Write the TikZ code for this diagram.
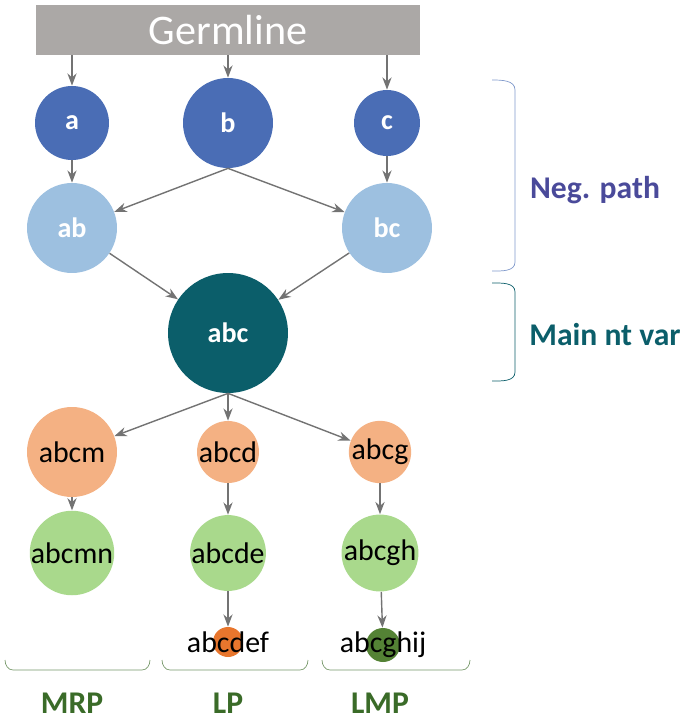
\documentclass[tikz,border=0pt]{standalone}
\usepackage{fontspec}
\setmainfont{Carlito}
\usetikzlibrary{arrows.meta}
\definecolor{GermGray}{HTML}{ABA8A6}
\definecolor{NegBlue}{HTML}{4A6DB5}
\definecolor{PairBlue}{HTML}{9DC0E0}
\definecolor{MainTeal}{HTML}{0B5E6A}
\definecolor{SubSalmon}{HTML}{F4B183}
\definecolor{SubGreen}{HTML}{A9D98C}
\definecolor{LeafOrange}{HTML}{E8762D}
\definecolor{LeafGreen}{HTML}{548235}
\definecolor{LabelBlue}{HTML}{4A4A9A}
\definecolor{LabelGreen}{HTML}{3A6B28}
\tikzset{
  var/.style={circle,inner sep=0pt,font=\fontsize{17}{17}\selectfont},
  top/.style={var,text=white,font=\fontsize{16}{16}\selectfont\bfseries},
  link/.style={draw=gray!90!black,thick,-{Stealth[length=7pt]}},
  group/.style={draw=#1,thin}
}
\begin{document}
\begin{tikzpicture}[x=0.02cm,y=-0.02cm]
  \useasboundingbox (0,0) rectangle (685,720);
  \node[fill=GermGray,text=white,minimum width=7.7cm,minimum height=1cm,font=\fontsize{24}{24}\selectfont] (germ) at (228,30) {Germline};
  % negative path
  \node[top,fill=NegBlue,minimum size=1.48cm] (a) at (72,123) {a};
  \node[top,fill=NegBlue,minimum size=1.8cm] (b) at (228,123) {b};
  \node[top,fill=NegBlue,minimum size=1.32cm] (c) at (387,123) {c};
  \node[top,fill=PairBlue,minimum size=1.8cm] (ab) at (72,228) {ab};
  \node[top,fill=PairBlue,minimum size=1.8cm] (bc) at (387,228) {bc};
  \node[top,fill=MainTeal,minimum size=2.4cm] (abc) at (228,333) {abc};
  % sub-clones
  \node[var,fill=SubSalmon,minimum size=1.8cm] (abcm) at (72,452) {abcm};
  \node[var,fill=SubSalmon,minimum size=1.12cm] (abcd) at (228,452) {abcd};
  \node[var,fill=SubSalmon,minimum size=1.12cm] (abcg) at (380,452) {abcg};
  \node[var,fill=SubGreen,minimum size=1.32cm] (abcmn) at (72,553) {abcmn};
  \node[var,fill=SubGreen,minimum size=1.08cm] (abcde) at (228,553) {abcde};
  \node[var,fill=SubGreen,minimum size=1.08cm] (abcgh) at (380,553) {abcgh};
  \node[circle,fill=LeafOrange,minimum size=0.6cm] (fo) at (228,642) {};
  \node[var] (abcdef) at (fo) {abcdef};
  \node[circle,fill=LeafGreen,minimum size=0.68cm] (go) at (383,645) {};
  \node[var] (abcghij) at (go) {abcghij};
  % links
  \foreach \n in {a,b,c}
    \draw[link] (germ.south -| \n) -- (\n);
  \foreach \s/\t in {a/ab,c/bc,ab/abc,bc/abc,abcm/abcmn,abcd/abcde,abcg/abcgh}
    \draw[link] (\s) -- (\t);
  \foreach \t in {ab,bc}
    \draw[link] (b.south) -- (\t);
  \foreach \t in {abcm,abcd,abcg}
    \draw[link] (abc.south) -- (\t);
  \draw[link] (abcde) -- (fo);
  \draw[link] (abcgh) -- (go);
  % brackets
  \draw[group=NegBlue!70] (492,80) to[out=0,in=90] (515,90) -- (515,262) to[out=-90,in=0] (492,271);
  \draw[group=MainTeal] (492,283) to[out=0,in=90] (515,292) -- (515,372) to[out=-90,in=0] (492,381);
  \foreach \x/\w in {5/150,162/308,322/470}
    \draw[group=LabelGreen!70] (\x,660) to[out=-90,in=180] (\x+8,670) -- (\w-8,670) to[out=0,in=-90] (\w,660);
  \node[font=\fontsize{18}{18}\selectfont\bfseries,text=LabelBlue] (negl) at (595,190) {Neg. path};
  \node[font=\fontsize{18}{18}\selectfont\bfseries,text=MainTeal] (mainl) at (605,335) {Main nt var};
  \node[font=\fontsize{18}{18}\selectfont\bfseries,text=LabelGreen] (mrp) at (72,703) {MRP};
  \node[font=\fontsize{18}{18}\selectfont\bfseries,text=LabelGreen] (lp) at (228,703) {LP};
  \node[font=\fontsize{18}{18}\selectfont\bfseries,text=LabelGreen] (lmp) at (380,703) {LMP};
\end{tikzpicture}
\end{document}
